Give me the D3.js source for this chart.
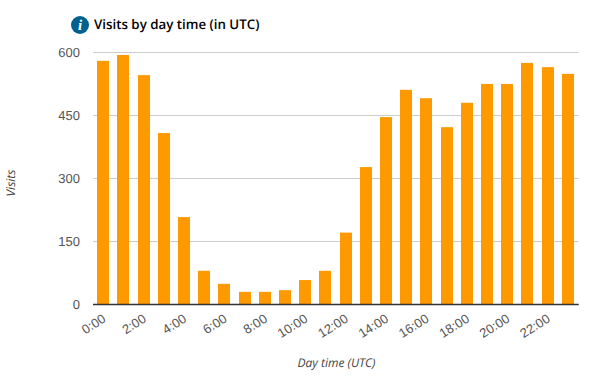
<!DOCTYPE html>
<html>
<head>
<meta charset="utf-8">
<script src="https://cdn.jsdelivr.net/npm/d3@7"></script>
<style>
  html, body { margin: 0; padding: 0; background: #fff; }
  svg { display: block; text-rendering: geometricPrecision; }
</style>
</head>
<body>
<div id="graph"></div>
<script>
var hours = ['0:00','1:00','2:00','3:00','4:00','5:00','6:00','7:00','8:00','9:00','10:00','11:00',
  '12:00','13:00','14:00','15:00','16:00','17:00','18:00','19:00','20:00','21:00','22:00','23:00']
var visits = [579, 593, 545, 407, 207, 79, 48, 29, 29, 33, 57, 79,
  170, 326, 445, 510, 490, 421, 479, 524, 524, 574, 564, 548]
var yTicks = [0, 150, 300, 450, 600]
var xLabels = hours.filter((d, i) => i % 2 == 0)

var title = 'Visits by day time (in UTC)'
var xTitle = 'Day time (UTC)'
var yTitle = 'Visits'

var width = 592, height = 381
var margin = {left: 93, right: 13.3, top: 52, bottom: 77}

var svg = d3.select('#graph').append('svg')
  .attr('width', width)
  .attr('height', height)

var g = svg.append('g')
  .attr('transform', `translate(${margin.left},${margin.top})`)

var innerW = width - margin.left - margin.right
var innerH = height - margin.top - margin.bottom

// bands step a bit under the gridline width, same as the picture
var x = d3.scaleBand().domain(hours).range([.6, 485.4]).paddingInner(.4).paddingOuter(.2)
var y = d3.scaleLinear().domain([0, 600]).range([innerH, 0])

// gridlines + y labels
var yAxis = g.append('g')
  .call(d3.axisLeft(y).tickValues(yTicks).tickSize(-innerW).tickPadding(13))
yAxis.select('.domain').remove()
yAxis.selectAll('.tick line').attr('stroke', '#ccc').attr('stroke-width', 1)
yAxis.selectAll('.tick text')
  .attr('fill', '#555')
  .style('font', '13px "Liberation Sans", Arial, sans-serif')

g.selectAll('rect.bar').data(visits).enter().append('rect')
  .attr('class', 'bar')
  .attr('x', (d, i) => Math.floor(x(hours[i])))
  .attr('width', 12)
  .attr('y', d => y(d))
  .attr('height', d => innerH - y(d))
  .attr('fill', '#ff9900')

// baseline sits on top of the bars
g.append('g')
  .call(d3.axisLeft(y).tickValues([0]).tickSize(-innerW).tickFormat(''))
  .call(s => s.select('.domain').remove())
  .selectAll('.tick line').attr('stroke', '#333').attr('stroke-width', 1.5)

// x axis
var xAxis = g.append('g')
  .attr('transform', `translate(0,${innerH})`)
  .call(d3.axisBottom(x).tickValues(xLabels).tickSize(0).tickPadding(0))
xAxis.select('.domain').remove()
xAxis.selectAll('.tick text')
  .attr('fill', '#555')
  .attr('text-anchor', 'end')
  .attr('dy', 0)
  .attr('transform', 'translate(3,17) rotate(-32)')
  .style('font', '13px "Liberation Sans", Arial, sans-serif')

// title
var info = svg.append('g').attr('transform', 'translate(80,25)')
info.append('circle').attr('r', 9).attr('fill', '#00618f')
info.append('text')
  .text('i')
  .attr('text-anchor', 'middle')
  .attr('y', 5)
  .attr('fill', '#fff')
  .style('font', 'italic bold 15px "Liberation Serif", serif')

svg.append('text')
  .text(title)
  .attr('x', 94)
  .attr('y', 29)
  .attr('fill', '#000')
  .style('font', '600 13.3px "Open Sans", sans-serif')

svg.append('text')
  .text(xTitle)
  .attr('x', 336.5)
  .attr('y', 367)
  .attr('text-anchor', 'middle')
  .attr('fill', '#444')
  .style('font', 'italic 12px "Open Sans", sans-serif')

svg.append('text')
  .text(yTitle)
  .attr('transform', 'translate(15,183) rotate(-90)')
  .attr('text-anchor', 'middle')
  .attr('fill', '#444')
  .style('font', 'italic 12px "Open Sans", sans-serif')
</script>
</body>
</html>
